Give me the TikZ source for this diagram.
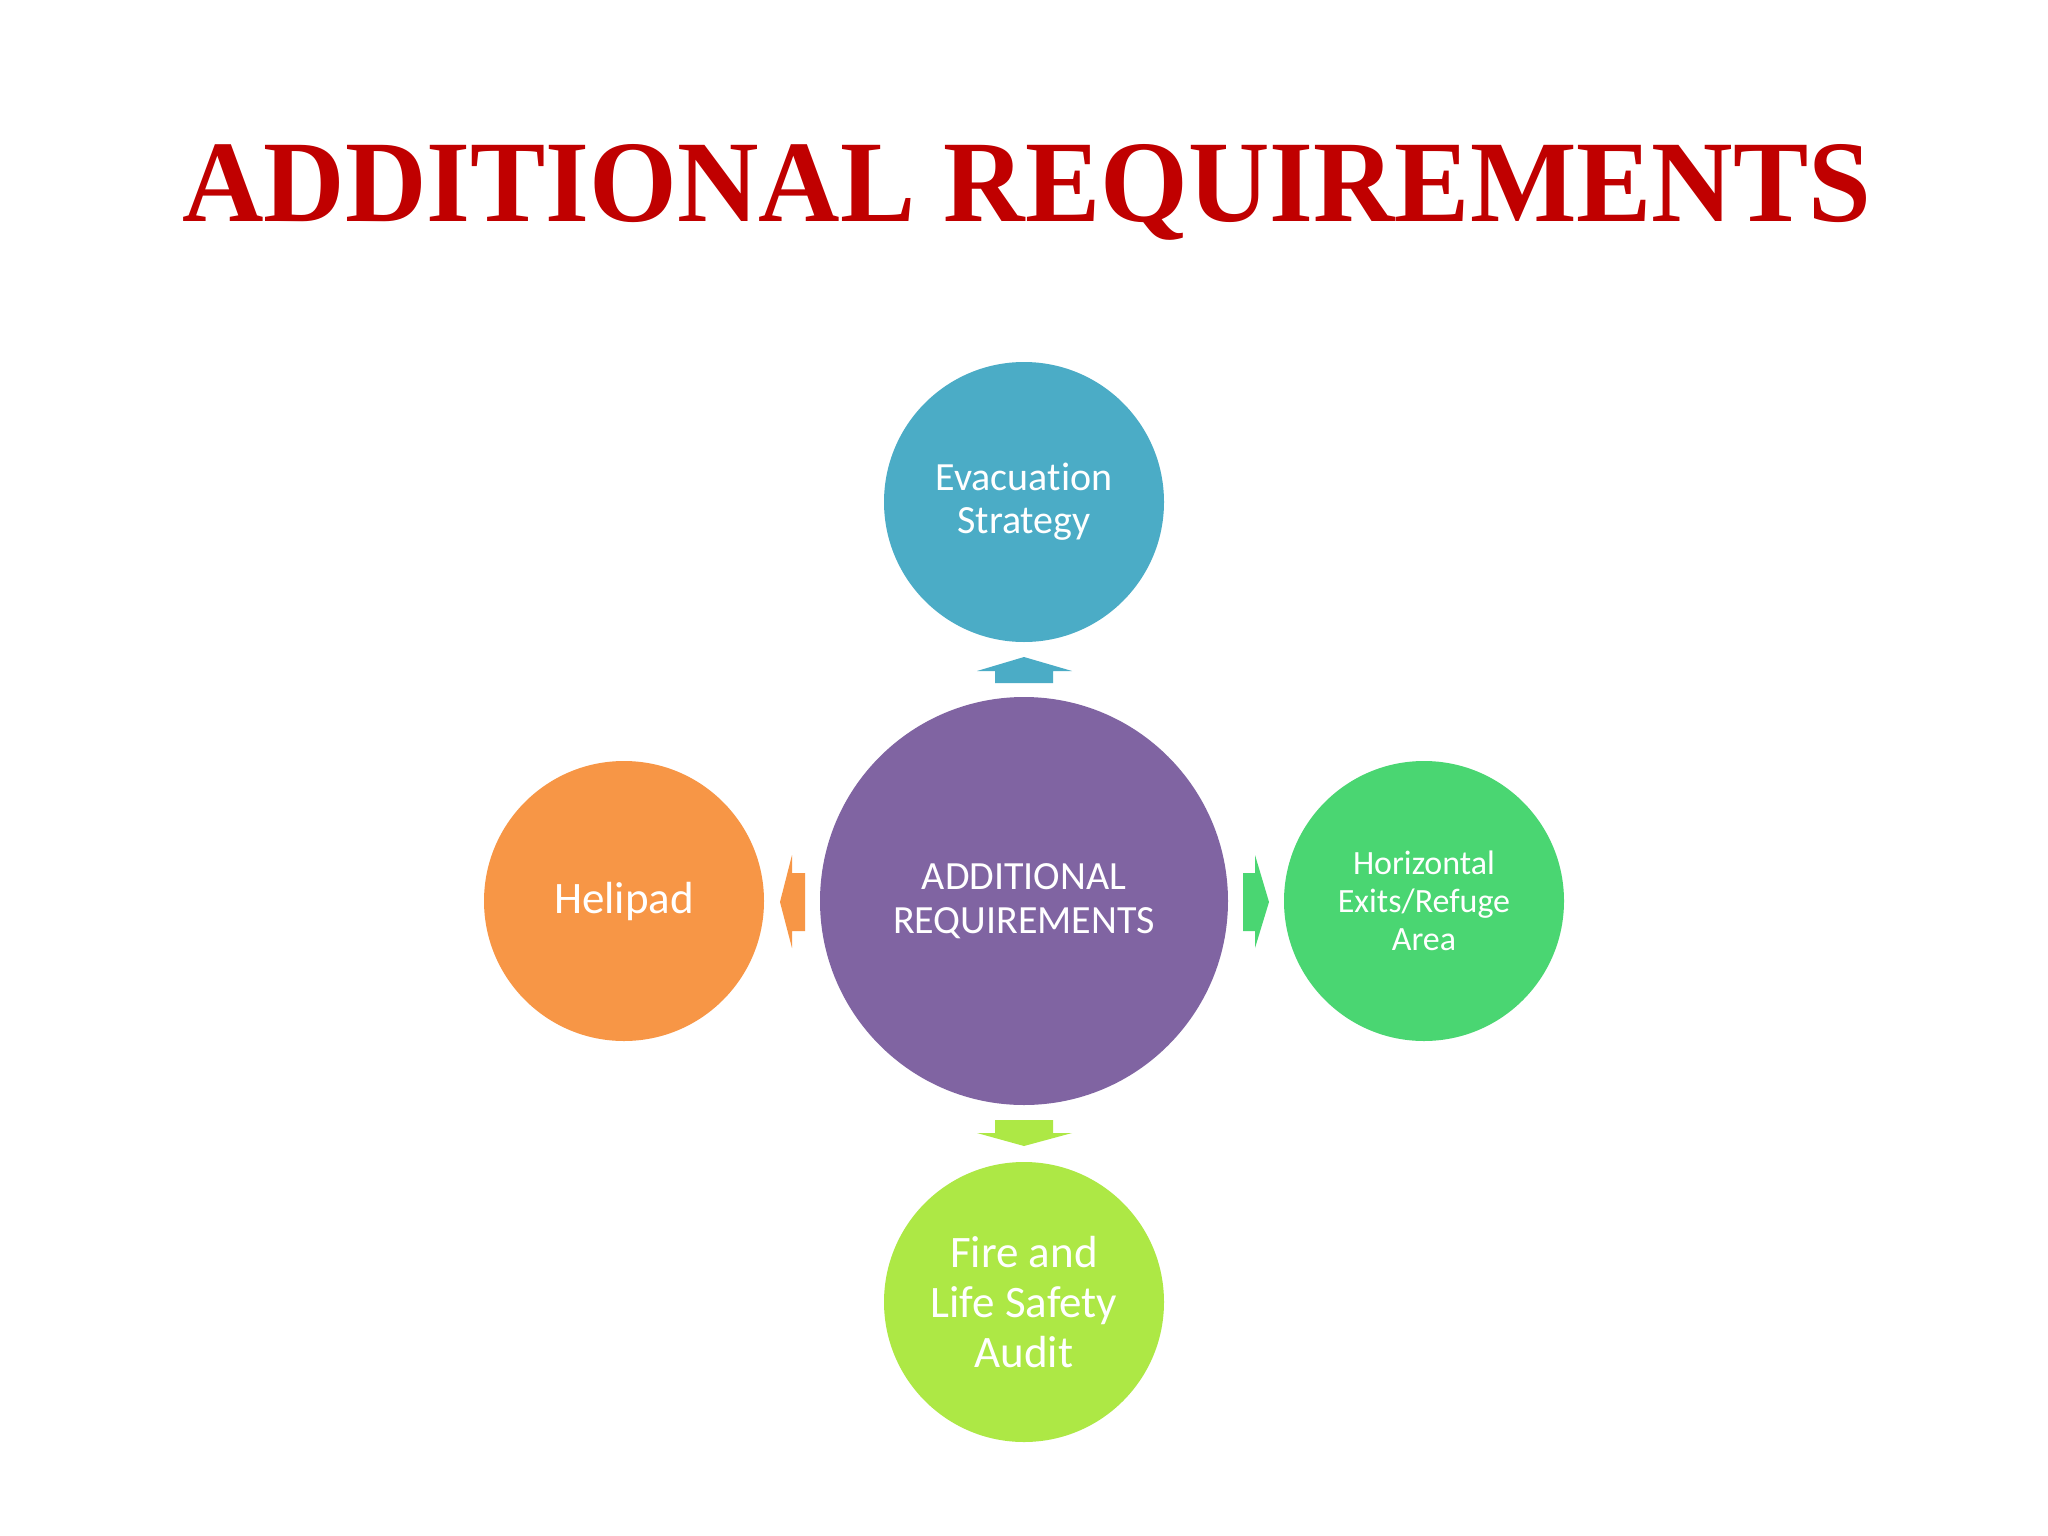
\documentclass[tikz,border=0pt]{standalone}
\usepackage{fontspec}
\setmainfont{Carlito}[Ligatures=NoCommon]
\newfontfamily\titlefont{Liberation Serif}
\usepackage{graphicx}
\definecolor{titlered}{HTML}{C00000}
\definecolor{cblue}{HTML}{4BACC6}
\definecolor{cpurple}{HTML}{8064A2}
\definecolor{corange}{HTML}{F79646}
\definecolor{cgreen}{HTML}{4AD672}
\definecolor{clime}{HTML}{ADE845}
\begin{document}
\begin{tikzpicture}[x=1pt,y=-1pt,
  circ/.style={circle,inner sep=0pt,text=white,align=center},
  small/.style={circ,minimum size=280pt},
  big/.style={circ,minimum size=408pt}]
\useasboundingbox[fill=white] (0,0) rectangle (2048,1536);
\node[anchor=base west,inner sep=0pt,text=titlered] (title) at (182,221)
  {\resizebox{1688pt}{77pt}{\titlefont\bfseries ADDITIONAL REQUIREMENTS}};
\node[big,fill=cpurple,font=\fontsize{40}{44}\selectfont] (c) at (1024,901) {ADDITIONAL\\REQUIREMENTS};
\node[small,fill=cblue,font=\fontsize{40}{43}\selectfont] (t) at (1024,502) {Evacuation\\Strategy};
\node[small,fill=corange,font=\fontsize{45}{50}\selectfont] (l) at (624,901) {Helipad};
\node[small,fill=cgreen,font=\fontsize{34}{38}\selectfont] (r) at (1424,901) {Horizontal\\Exits/Refuge\\Area};
\node[small,fill=clime,font=\fontsize{45}{50}\selectfont] (b) at (1024,1302) {Fire and\\Life Safety\\Audit};
% block arrows
\fill[cblue] (995,683) -- (995,671) -- (977,671) -- (1024,657) -- (1072,671) -- (1053,671) -- (1053,683) -- cycle;
\fill[clime] (995,1120) -- (995,1133) -- (977,1133) -- (1024,1146) -- (1072,1133) -- (1053,1133) -- (1053,1120) -- cycle;
\fill[corange] (805,873) -- (792,873) -- (792,855) -- (780,902) -- (792,948) -- (792,931) -- (805,931) -- cycle;
\fill[cgreen] (1243,873) -- (1255,873) -- (1255,855) -- (1269,902) -- (1255,948) -- (1255,931) -- (1243,931) -- cycle;
\end{tikzpicture}
\end{document}
